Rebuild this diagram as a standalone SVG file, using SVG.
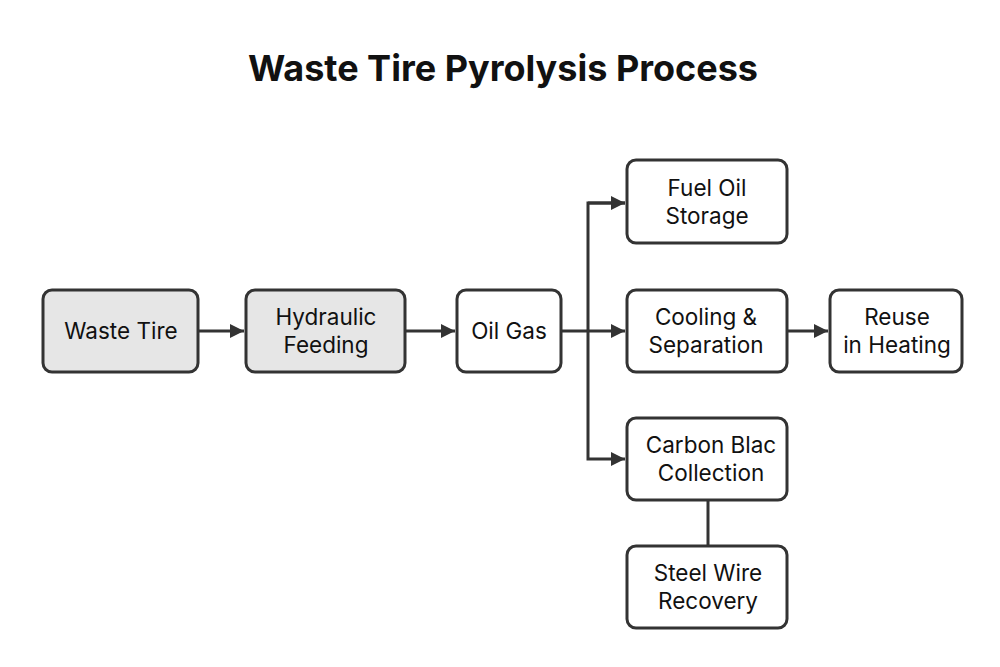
<svg xmlns="http://www.w3.org/2000/svg" width="1000" height="667" viewBox="0 0 1000 667">
<style>
.b{fill:#fff;stroke:#333;stroke-width:3}
.g{fill:#e6e6e6}
.t{font-family:Inter,"Liberation Sans",sans-serif;font-size:22.5px;fill:#111;text-anchor:middle}
.c{fill:none;stroke:#333;stroke-width:3}
</style>
<defs>
<marker id="a2" viewBox="0 0 10 10" markerWidth="16" markerHeight="14" refX="10" refY="5" orient="auto" markerUnits="userSpaceOnUse"><path d="M0,0L10,5L0,10z" fill="#333"/></marker></defs>
<rect width="1000" height="667" fill="#fff"/>
<text x="503" y="81" style="font-family:Inter,'Liberation Sans',sans-serif;font-size:36px;font-weight:bold;text-anchor:middle;fill:#111">Waste Tire Pyrolysis Process</text>
<g id="connectors">
<path class="c" d="M198,331H244" marker-end="url(#a2)"/>
<path class="c" d="M405,331H455" marker-end="url(#a2)"/>
<path class="c" d="M561,331H625" marker-end="url(#a2)"/>
<path class="c" d="M625,203H588V459H625" marker-end="url(#a2)"/>
<path class="c" d="M588,203H625" marker-end="url(#a2)"/>
<path class="c" d="M787,331H828" marker-end="url(#a2)"/>
<path class="c" d="M708,500V546"/>
</g>
<g id="waste"><rect class="b g" x="43" y="290" width="155" height="82" rx="9"/><text class="t" x="121" y="339">Waste Tire</text></g>
<g id="hydraulic"><rect class="b g" x="246" y="290" width="159" height="82" rx="9"/><text class="t" x="326" y="325">Hydraulic</text><text class="t" x="326" y="353">Feeding</text></g>
<g id="oilgas"><rect class="b" x="457" y="290" width="104" height="82" rx="9"/><text class="t" x="509" y="339">Oil Gas</text></g>
<g id="fuel"><rect class="b" x="627" y="160" width="160" height="83" rx="9"/><text class="t" x="707" y="196">Fuel Oil</text><text class="t" x="707" y="224">Storage</text></g>
<g id="cooling"><rect class="b" x="627" y="290" width="160" height="82" rx="9"/><text class="t" x="706" y="325">Cooling &amp;</text><text class="t" x="706" y="353">Separation</text></g>
<g id="reuse"><rect class="b" x="830" y="290" width="132" height="82" rx="9"/><text class="t" x="897" y="325">Reuse</text><text class="t" x="897" y="353">in Heating</text></g>
<g id="carbon"><rect class="b" x="627" y="418" width="160" height="82" rx="9"/><text class="t" x="711" y="453">Carbon Blac</text><text class="t" x="711" y="481">Collection</text></g>
<g id="steel"><rect class="b" x="627" y="546" width="160" height="82" rx="9"/><text class="t" x="708" y="581">Steel Wire</text><text class="t" x="708" y="609">Recovery</text></g>
</svg>
